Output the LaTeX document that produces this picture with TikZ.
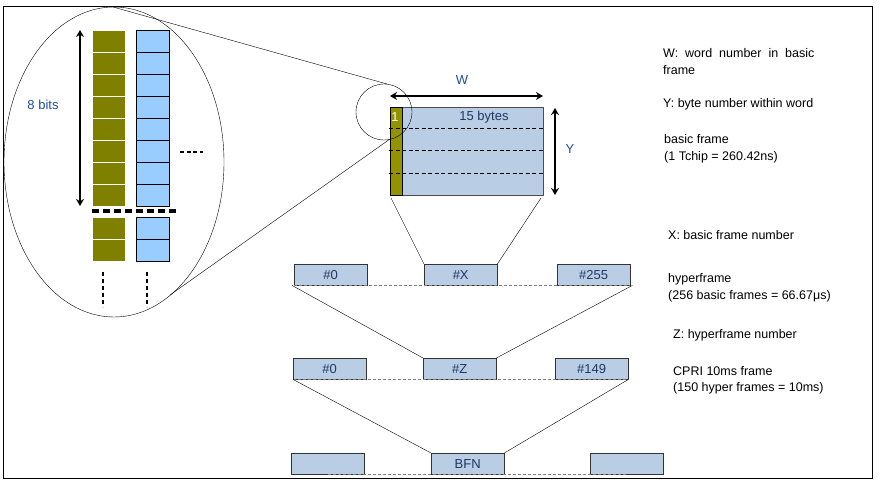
\documentclass[tikz,border=0pt]{standalone}
\usepackage{fontspec}
\setmainfont{Liberation Sans}
\usetikzlibrary{arrows.meta,shapes.geometric}
\definecolor{olv}{HTML}{808000}
\definecolor{lb}{HTML}{99CCFF}
\definecolor{bf}{HTML}{B9CDE5}
\definecolor{navy}{HTML}{1F3864}
\definecolor{lbl}{HTML}{1F4E9A}
\begin{document}
\begin{tikzpicture}[x=1pt,y=-1pt,
  box/.style={draw=black!80,fill=bf,minimum width=73pt,minimum height=21pt,inner sep=0pt,anchor=north west,text=navy,font=\fontsize{13}{13}\selectfont},
  txt/.style={anchor=west,font=\fontsize{12.5}{15}\selectfont,inner sep=0pt},
  dl/.style={densely dashed,gray,line width=0.6pt},
  arr/.style={{Stealth[length=7pt,width=8pt]}-{Stealth[length=7pt,width=8pt]},line width=1.4pt}]
\useasboundingbox (0,0) rectangle (881,486);
\draw[line width=0.8pt] (3,6) rectangle (872,478);
% ellipse
\node[draw,ellipse,minimum width=220pt,minimum height=310pt,inner sep=0pt] (ell) at (114,162) {};
\foreach \i in {0,...,7}{
  \fill[olv,draw=white,line width=0.6pt] (92,30+22*\i) rectangle (125,52+22*\i);
  \fill[lb,draw=black,line width=0.6pt] (136,30+22*\i) rectangle (169,52+22*\i);
}
\foreach \i in {0,1}{
  \fill[olv,draw=white,line width=0.6pt] (92,217+22*\i) rectangle (125,239+22*\i);
  \fill[lb,draw=black,line width=0.6pt] (136,217+22*\i) rectangle (169,239+22*\i);
}
\draw[line width=4pt,dash pattern=on 7pt off 4pt] (92,211) -- (176,211);
\draw[line width=1.2pt,dash pattern=on 4pt off 3pt] (103,272) -- (103,307) (147,272) -- (147,307);
\coordinate (bt) at (80,30); \coordinate (bb) at (80,206);
\draw[arr] (bt) -- (bb);
\node[text=lbl,font=\fontsize{13}{13}\selectfont] (bits) at (43,105) {8 bits};
\draw[line width=1.2pt,dash pattern=on 4pt off 2.5pt] (180,152) -- (203,152);
% basic frame
\fill[bf] (390,107) rectangle (543,195);
\draw[black!70] (390,107) rectangle (543,195);
\fill[olv!85!yellow,draw=black] (390,107) rectangle (402,195);
\node[text=white,font=\fontsize{13}{13}\selectfont] (one) at (395,117) {1};
\foreach \y in {129,151,174} \draw[line width=1pt,dash pattern=on 4pt off 2.5pt] (389,\y) -- (543,\y);
\node[text=navy,font=\fontsize{13}{13}\selectfont] (fb) at (484,117) {15 bytes};
\coordinate (wl) at (390,96); \coordinate (wr) at (543,96);
\draw[arr] (wl) -- (wr);
\node[text=lbl,font=\fontsize{13}{13}\selectfont] (W) at (462,80) {W};
\coordinate (yt) at (555,108); \coordinate (yb) at (555,195);
\draw[arr] (yt) -- (yb);
\node[text=lbl,font=\fontsize{13}{13}\selectfont] (Y) at (570,149) {Y};
% small circle and tangents
\node[draw,circle,minimum size=56pt,inner sep=0pt] (sc) at (384,112) {};
\coordinate (e1) at (113,7); \coordinate (c1) at (387,84);
\coordinate (e2) at (170,295); \coordinate (c2) at (390,139);
\draw (e1) -- (c1) (e2) -- (c2);
% rows
\node[box] (a0) at (294,264) {\#0};
\node[box] (aX) at (424,264) {\#X};
\node[box] (a255) at (557,264) {\#255};
\node[box] (b0) at (293,358) {\#0};
\node[box] (bZ) at (423,358) {\#Z};
\node[box] (b149) at (555,358) {\#149};
\node[box] (c0) at (291,453) {};
\node[box] (bfn) at (431,453) {BFN};
\node[box] (c2b) at (590,453) {};
\draw[dl] (a0.south west) -- (a255.south east);
\draw[dl] (b0.south west) -- (b149.south east);
\draw[dl] (c0.south) -- (c2b.south);
\coordinate (fl) at (391,198); \coordinate (fr) at (541,198);
\draw (fl) -- (aX.north west) (fr) -- (aX.north east);
\draw ([xshift=-2pt]a0.south west) -- (bZ.north west) ([xshift=2pt]a255.south east) -- (bZ.north east);
\draw (b0.south west) -- (bfn.north west) (b149.south east) -- (bfn.north east);
% right texts
\node[txt] (t1) at (663,53) {W:\ \ word\ \ number\ \ in\ \ basic};
\node[txt] (t2) at (663,70) {frame};
\node[txt] (t3) at (663,104) {Y: byte number within word};
\node[txt] (t4) at (664,139) {basic frame};
\node[txt] (t5) at (664,157) {(1 Tchip = 260.42ns)};
\node[txt] (t6) at (668,235) {X: basic frame number};
\node[txt] (t7) at (668,279) {hyperframe};
\node[txt] (t8) at (668,296) {(256 basic frames = 66.67μs)};
\node[txt] (t9) at (673,335) {Z: hyperframe number};
\node[txt] (t10) at (673,371) {CPRI 10ms frame};
\node[txt] (t11) at (673,388) {(150 hyper frames = 10ms)};
\end{tikzpicture}
\end{document}
